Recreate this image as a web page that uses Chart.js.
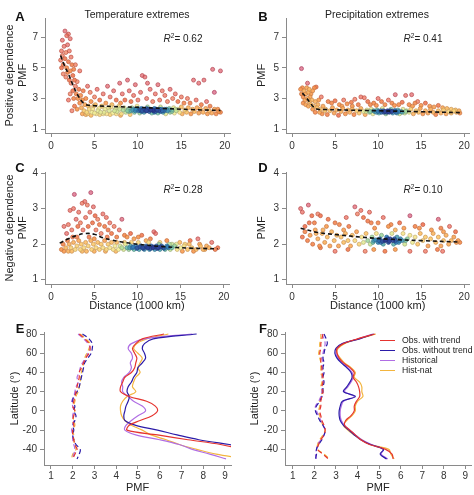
<!DOCTYPE html>
<html><head><meta charset="utf-8">
<script src="https://cdn.jsdelivr.net/npm/chart.js@4.4.1/dist/chart.umd.min.js"></script>
<style>
body{margin:0;background:#fff;font-family:"Liberation Sans",Arial,sans-serif;}
#wrap{position:relative;width:474px;height:495px;overflow:hidden;}
canvas{position:absolute;}
.t{position:absolute;transform:translate(-50%,-50%);white-space:nowrap;color:#222;font-size:10px;}
.lt{font-weight:bold;font-size:13px;color:#111;}
.r2 i{font-style:italic;}
.r2 sup{font-size:6.5px;vertical-align:4px;line-height:0;}
.leg{position:absolute;left:380px;height:10px;font-size:8.7px;color:#222;white-space:nowrap;line-height:10px;}
.leg span{position:absolute;left:0;top:5px;width:15px;height:0;border-top:1.5px solid;}
.leg b{position:absolute;left:22px;top:0;font-weight:normal;}
</style></head>
<body>
<div id="wrap">
  <canvas id="cA" width="240" height="160" style="left:0;top:0"></canvas>
  <canvas id="cB" width="234" height="160" style="left:240px;top:0"></canvas>
  <canvas id="cC" width="240" height="160" style="left:0;top:160px"></canvas>
  <canvas id="cD" width="234" height="160" style="left:240px;top:160px"></canvas>
  <canvas id="cE" width="240" height="175" style="left:0;top:320px"></canvas>
  <canvas id="cF" width="234" height="175" style="left:240px;top:320px"></canvas>

  <div class="t lt" style="left:20px;top:16px">A</div>
  <div class="t lt" style="left:263px;top:16px">B</div>
  <div class="t lt" style="left:20px;top:167px">C</div>
  <div class="t lt" style="left:263px;top:167px">D</div>
  <div class="t lt" style="left:20px;top:328px">E</div>
  <div class="t lt" style="left:263px;top:328px">F</div>
  <div class="t" style="left:137px;top:14px;font-size:10.5px">Temperature extremes</div>
  <div class="t" style="left:377px;top:14px;font-size:10.5px">Precipitation extremes</div>
  <div class="t r2" style="left:183px;top:38px"><i>R</i><sup>2</sup>= 0.62</div>
  <div class="t r2" style="left:423px;top:38px"><i>R</i><sup>2</sup>= 0.41</div>
  <div class="t r2" style="left:183px;top:189px"><i>R</i><sup>2</sup>= 0.28</div>
  <div class="t r2" style="left:423px;top:189px"><i>R</i><sup>2</sup>= 0.10</div>
  <div id="legend"></div>
</div>
<script>
// ticks
const distTicks = [0,5,10,15,20];
const posTicks = [1,3,5,7];
const negTicks = [1,2,3,4];
const pmfTicks = [1,2,3,4,5,6,7,8,9];
const latTicks = [-40,-20,0,20,40,60,80];

// A: temperature, positive dependence (distance, PMF)
const ptsA = [
[1.1,5.5],[1.2,6.1],[1.3,5.8],[1.3,6.8],[1.4,5.2],[1.5,6.4],[1.6,7.4],[1.6,5.6],[1.7,6.0],[1.8,7.1],[1.8,5.0],[1.9,6.5],[2.0,7.2],[2.0,5.4],[2.1,6.1],[2.2,6.9],[2.2,4.8],[2.3,5.7],[2.4,5.2],[2.5,4.5],
[1.2,5.0],[1.4,4.6],[1.7,4.4],[1.9,4.7],[2.1,4.2],[2.3,4.0],[2.6,4.9],[2.7,4.2],[2.8,3.8],[2.5,3.5],[2.9,3.3],[3.0,4.1],[3.1,3.0],[3.2,3.6],[3.3,2.7],[3.4,3.2],[2.6,3.0],[2.2,3.3],[2.0,2.9],[2.7,2.5],
[2.4,2.2],[3.0,2.3],[3.5,2.4],[3.6,2.9],[3.7,3.5],[3.8,2.2],[3.9,2.6],[3.3,4.8],[2.8,5.2],
[4.0,3.0],[4.1,2.1],[4.2,3.8],[4.3,2.5],[4.5,3.4],[4.6,2.8],[4.8,2.3],[5.0,3.1],[5.1,2.6],[5.3,3.6],[5.4,2.2],[5.6,2.9],[5.8,2.5],[6.0,3.3],[6.1,2.1],[6.3,2.7],[6.5,3.8],[6.6,2.4],[6.8,3.1],[7.0,2.6],
[7.2,3.5],[7.3,2.2],[7.5,2.9],[7.7,2.4],[7.9,4.0],[8.0,2.7],[8.2,3.3],
[8.5,2.9],[8.8,4.2],[9.0,3.5],[9.2,2.8],[9.5,3.2],[9.7,3.9],[10.0,2.9],[10.3,3.4],[10.5,4.5],[10.8,4.4],[11.0,3.0],[11.1,4.0],[11.4,3.6],[11.7,2.8],[12.0,3.3],[12.3,3.9],[12.5,2.9],[12.8,3.5],[13.1,3.2],[13.4,2.8],
[13.7,3.6],[14.0,3.0],[14.3,3.3],[14.6,2.8],[15.0,3.1],[15.3,2.7],[15.7,3.0],[16.0,2.7],[16.4,4.2],[16.7,2.9],[17.0,4.0],[17.3,2.6],[17.6,4.2],[17.9,2.8],[18.3,2.5],[18.6,4.9],[18.8,3.4],[19.2,2.3],[19.5,4.8],[19.5,2.1],
[4.2,2.0],[4.4,2.3],[4.7,2.1],[4.9,2.5],[5.2,2.0],[5.5,2.35],[5.7,2.1],[5.9,2.5],[6.2,2.3],[6.4,2.0],[6.7,2.2],[6.9,2.45],[7.1,2.05],[7.4,2.3],[7.6,2.15],[7.8,2.5],[8.1,2.0],[8.3,2.25],[8.4,2.4],[8.6,2.1],
[8.9,2.3],[9.0,2.15],[9.1,1.95],[9.3,2.4],[9.4,2.25],[9.6,2.1],[9.8,2.3],[9.9,2.5],[10.1,2.2],[10.2,2.05],[10.4,2.35],[10.5,2.2],[10.7,2.1],[10.8,2.3],[11.0,2.2],[11.1,2.45],[11.3,2.15],[11.4,2.3],[11.6,2.05],[11.7,2.25],
[11.9,2.35],[12.0,2.15],[12.2,2.25],[12.3,2.05],[12.5,2.3],[12.6,2.45],[12.8,2.2],[12.9,2.1],[13.1,2.3],[13.2,2.0],[13.4,2.2],[13.6,2.35],[13.7,2.1],[13.9,2.25],[14.1,2.4],[14.2,2.05],[14.4,2.2],[14.6,2.3],[14.8,2.1],[15.0,2.45],
[15.1,2.0],[15.4,2.25],[15.6,2.1],[15.8,2.4],[16.1,2.0],[16.3,2.3],[16.5,2.15],[16.8,2.4],[17.0,2.05],[17.2,2.3],[17.5,2.1],[17.8,2.35],[18.0,2.0],[18.2,2.2],[18.5,2.05],[18.8,2.3],[19.0,2.0],[19.3,2.15],
[9.2,2.2],[9.5,2.3],[9.7,2.2],[10.0,2.35],[10.3,2.25],[10.6,2.3],[10.9,2.2],[11.2,2.3],[11.5,2.25],[11.8,2.2],[12.1,2.3],[12.4,2.2],[12.7,2.3],[13.0,2.2],[13.3,2.3],[13.6,2.25],[13.9,2.15],[10.4,2.15],[11.0,2.35],[11.9,2.1],
[12.6,2.15],[8.8,2.2],[14.3,2.3],[7.9,2.3],
[3.6,2.0],[4.0,1.95],[4.6,1.9],[5.0,2.05],[5.6,1.95],[6.0,2.0],[6.8,1.95],[7.5,2.0],[8.0,1.9]
];
const fitAX = [1.1,1.5,2,2.5,3,3.5,4,5,7,10,13,16,19.5];
const fitAY = [5.8,5.2,4.6,3.9,3.3,2.85,2.6,2.53,2.48,2.42,2.35,2.28,2.22];

// B: precipitation, positive dependence
const ptsB = [
[1.1,4.95],[1.0,3.6],[1.1,3.3],[1.2,3.7],[1.3,3.1],[1.4,3.5],[1.5,2.9],[1.6,3.3],[1.7,3.7],[1.8,4.0],[1.8,3.0],[1.9,3.4],[2.0,2.8],[2.0,3.6],[2.1,3.1],[2.2,2.6],[2.2,3.3],[2.3,2.9],[2.4,3.5],[2.5,2.5],
[2.6,3.7],[2.7,2.8],[2.8,3.75],[2.9,2.4],[1.3,2.7],[1.6,2.6],[1.9,2.5],[2.4,2.3],[3.0,2.6],[3.1,2.9],[3.3,2.3],[3.4,3.1],[3.6,2.5],[3.2,2.1],[2.7,2.1],[3.8,2.2],
[4.2,2.8],[4.6,2.7],[5.0,2.85],[5.5,2.6],[6.0,2.9],[6.4,2.65],[6.9,2.75],[7.3,2.95],[7.7,2.6],[8.0,3.1],[8.4,3.05],[8.8,2.8],[9.1,2.6],[9.5,2.7],[10.0,3.0],[10.4,2.8],[10.8,2.6],[11.2,2.9],[11.6,2.7],[12.0,3.25],
[12.4,2.6],[12.8,2.75],[13.2,3.2],[13.6,2.6],[13.9,3.25],[14.3,2.7],[14.6,2.8],[15.0,2.55],[15.5,2.7],[16.0,2.5],[16.5,2.45],[17.0,2.55],[17.5,2.4],[18.0,2.35],[18.5,2.3],[19.0,2.25],[19.4,2.2],[7.0,2.5],[5.8,2.5],[9.8,2.55],
[11.9,2.55],[14.0,2.5],
[3.5,2.0],[3.9,2.3],[4.1,1.95],[4.4,2.2],[4.7,2.4],[4.9,2.05],[5.2,2.25],[5.4,1.9],[5.7,2.15],[5.9,2.35],[6.2,2.0],[6.5,2.25],[6.7,2.1],[7.0,2.3],[7.2,1.95],[7.5,2.2],[7.8,2.05],[8.0,2.35],[8.3,2.15],[8.5,1.95],
[8.7,2.25],[9.0,2.1],[9.2,2.3],[9.4,2.0],[9.6,2.15],[9.9,2.25],[10.1,2.05],[10.3,2.2],[10.5,2.35],[10.7,2.1],[10.9,2.0],[11.1,2.2],[11.3,2.1],[11.5,2.3],[11.7,2.05],[11.9,2.2],[12.1,2.1],[12.3,2.25],[12.5,2.0],[12.7,2.15],
[12.9,2.3],[13.1,2.05],[13.3,2.2],[13.6,2.1],[13.8,2.3],[14.1,2.0],[14.4,2.2],[14.7,2.1],[14.9,2.35],[15.2,2.0],[15.5,2.2],[15.8,2.05],[16.1,2.3],[16.4,2.1],[16.7,1.95],[17.0,2.2],[17.3,2.05],[17.6,2.25],[17.9,2.0],[18.2,2.15],
[18.5,2.05],[18.8,2.2],[19.1,2.1],[19.5,2.05],
[9.1,2.15],[9.5,2.2],[9.8,2.1],[10.0,2.15],[10.4,2.1],[10.6,2.2],[10.8,2.15],[11.0,2.1],[11.2,2.15],[11.6,2.15],[12.0,2.2],[12.4,2.15],[12.8,2.1],[13.2,2.15],[8.6,2.15],[11.4,2.2],[12.2,2.05]
];
const fitBX = [1.2,1.6,2,2.5,3,4,5,10,15,19.5];
const fitBY = [3.35,3.1,2.8,2.45,2.3,2.28,2.26,2.2,2.14,2.08];

// C: temperature, negative dependence
const ptsC = [
[1.5,2.5],[1.8,2.3],[2.0,2.55],[2.2,2.95],[2.4,2.4],[2.6,3.0],[2.7,3.4],[2.9,2.7],[3.1,2.5],[3.2,2.9],[3.4,2.6],[3.6,3.15],[3.7,2.4],[3.9,3.2],[4.0,2.75],[4.2,3.1],[4.3,2.5],[4.5,2.9],[4.6,3.45],[4.8,2.6],
[4.9,3.05],[5.1,2.8],[5.2,2.4],[5.4,2.7],[5.6,2.55],[5.8,2.3],[6.0,2.85],[6.2,2.5],[6.4,2.75],[6.6,2.4],[6.8,2.6],[7.0,2.3],[7.3,2.5],[7.6,2.2],[7.9,2.4],[8.2,2.7],[8.5,2.25],[8.8,2.2],[9.2,2.3],[9.6,2.15],
[10.1,2.2],[10.5,2.25],[11.0,2.1],[11.5,2.15],[11.9,2.35],[12.1,2.3],[12.6,2.05],[13.4,2.1],[14.0,2.0],[14.9,2.05],[15.5,2.0],[16.1,2.1],[17.0,2.15],[17.2,2.0],[18.0,1.95],[18.6,2.05],[19.3,1.9],[19.0,1.85],[3.0,2.2],[4.4,2.2],
[5.0,2.15],[2.5,2.2],[6.5,2.2],[1.9,2.1],
[1.2,1.85],[1.4,2.0],[1.7,1.9],[2.0,1.8],[2.1,2.0],[2.3,1.9],[2.6,2.05],[2.8,1.85],[3.0,1.95],[3.2,2.1],[3.4,1.85],[3.5,2.0],[3.8,1.9],[4.0,2.05],[4.1,1.8],[4.3,1.95],[4.6,2.1],[4.7,1.85],[4.9,2.0],[5.2,1.9],
[5.4,2.05],[5.6,1.85],[5.8,2.0],[6.0,1.9],[6.2,2.1],[6.4,1.85],[6.6,2.0],[6.8,1.9],[7.0,2.05],[7.2,1.85],[7.4,1.95],[7.6,2.05],[7.8,1.85],[8.0,1.95],[1.5,1.8],[2.4,1.8],[3.6,1.8],[5.0,1.8],[6.3,1.8],[7.5,1.8],
[8.2,1.9],[8.4,1.85],[8.6,2.0],[8.8,1.9],[9.0,1.85],[9.2,1.95],[9.4,1.9],[9.6,1.85],[9.8,1.95],[10.0,1.9],[10.2,1.85],[10.4,1.95],[10.6,1.9],[10.8,1.85],[11.0,1.95],[11.2,1.9],[11.4,1.85],[11.6,1.95],[11.8,1.9],[12.0,1.85],
[12.2,1.95],[12.4,1.9],[12.6,1.85],[12.8,1.95],[13.0,1.9],[13.2,1.85],[13.4,1.95],[13.6,1.9],[13.8,1.85],[14.0,1.9],[14.3,1.95],[14.6,1.85],[15.0,1.9],[15.4,1.95],[15.8,1.85],[16.3,1.9],[16.8,1.85],[17.3,1.95],[17.8,1.85],[18.3,1.9],
[9.1,1.9],[9.5,1.92],[9.9,1.88],[10.3,1.92],[10.7,1.88],[11.1,1.92],[11.5,1.88],[11.9,1.92],[12.3,1.88],[12.7,1.92],[13.1,1.88],[13.5,1.92],[8.5,2.05],[9.3,2.05],[10.1,2.05],[11.3,2.05],[12.5,2.0],[13.7,2.0],[14.5,2.0],[15.2,1.8],
[16.0,2.0],[16.5,1.8],[17.6,1.85]
];
const fitCX = [1,2,3,4,5,6,7,8,10,13,16,19.3];
const fitCY = [2.03,2.15,2.25,2.3,2.28,2.18,2.12,2.07,2.0,1.93,1.89,1.87];

// D: precipitation, negative dependence
const ptsD = [
[1.0,3.0],[1.2,2.9],[1.9,3.1],[2.3,2.8],[3.0,2.85],[3.3,2.8],[2.0,2.6],[2.6,2.6],[1.5,2.5],[4.2,2.7],[4.0,2.5],[5.5,2.55],[5.0,2.6],[6.3,2.75],[6.6,2.5],[7.3,3.05],[7.6,2.85],[8.0,2.95],[8.3,2.75],[8.8,2.65],
[9.2,2.6],[9.0,2.9],[10.0,2.6],[10.6,2.75],[11.2,2.5],[11.5,2.55],[12.5,2.6],[13.0,2.45],[13.7,2.8],[14.3,2.5],[14.8,2.45],[15.2,2.55],[16.2,2.4],[17.0,2.7],[17.3,2.45],[17.6,2.35],[18.3,2.5],[19.0,2.35],[19.3,2.1],[3.6,2.4],
[6.0,2.4],[9.6,2.45],[12.0,2.4],[2.8,2.3],
[5.0,1.8],[8.5,1.8],[9.5,1.85],[12.0,1.85],[13.7,1.8],[15.5,1.8],[16.9,1.85],[17.5,1.8],[6.5,1.85],[10.8,1.8],[3.3,1.9],
[1.2,2.2],[1.5,2.35],[1.8,2.1],[2.1,2.25],[2.4,2.0],[2.7,2.4],[3.0,2.15],[3.2,1.95],[3.5,2.3],[3.8,2.05],[4.1,2.2],[4.4,1.95],[4.6,2.35],[4.9,2.1],[5.2,2.25],[5.4,1.95],[5.7,2.2],[6.0,2.05],[6.2,2.3],[6.5,2.1],
[6.8,1.95],[7.0,2.25],[7.3,2.1],[7.5,2.35],[7.8,2.0],[8.1,2.2],[8.3,2.05],[8.6,2.3],[8.8,2.1],[9.1,2.0],[9.3,2.2],[9.5,2.1],[9.8,2.3],[10.0,2.05],[10.2,2.15],[10.4,2.25],[10.6,2.0],[10.8,2.1],[11.0,2.2],[11.2,2.05],
[11.4,2.15],[11.6,2.3],[11.8,2.0],[12.0,2.1],[12.2,2.2],[12.4,2.05],[12.6,2.15],[12.9,2.3],[13.1,2.0],[13.4,2.15],[13.7,2.25],[14.0,2.05],[14.3,2.2],[14.6,2.0],[14.9,2.3],[15.2,2.1],[15.5,2.2],[15.8,1.95],[16.1,2.15],[16.4,2.3],
[16.7,2.05],[17.0,2.2],[17.3,1.95],[17.6,2.1],[17.9,2.25],[18.2,2.0],[18.5,2.1],[18.8,2.2],[19.1,2.05],[19.5,2.05],
[10.1,2.1],[10.5,2.08],[10.9,2.12],[11.3,2.08],[11.7,2.1],[12.1,2.05],[12.5,2.1],[9.7,2.12],[10.3,2.05],[11.1,2.15],[11.9,2.15],[12.8,2.1],[9.4,2.05],[13.2,2.1]
];
const fitDX = [1,3,5.5,8,11.3,15,19.6];
const fitDY = [2.45,2.33,2.26,2.2,2.14,2.1,2.06];

// E / F: latitude profiles of PMF
const lat = [80,75,70,65,60,55,50,45,40,35,30,25,20,15,10,5,0,-5,-10,-15,-20,-25,-30,-35,-40,-45,-50];
const seriesNames = ['Obs. with trend','Obs. without trend','Historical','Hist-nat'];
const seriesColors = ['#e5342f','#2b1ba8','#b06ee4','#f3b53f'];

const posTrendE   = [6.2,5.2,4.9,4.75,4.85,4.95,4.9,4.85,4.7,4.4,4.3,4.2,4.2,4.6,5.4,5.8,5.9,5.65,5.1,4.6,4.5,5.9,7.3,8.8,9.8,null,null];
const posNoTrendE = [7.7,5.7,5.3,5.2,5.3,5.35,5.2,5.0,4.95,4.8,4.7,4.55,4.5,4.6,4.55,4.45,4.4,4.35,4.4,4.9,5.9,6.8,7.8,9.2,10.6,null,null];
const posHistE    = [7.5,5.3,4.7,4.55,4.7,4.75,4.65,4.7,4.6,4.35,4.25,4.3,4.3,4.55,4.8,5.2,5.35,5.0,4.7,4.45,4.4,4.9,6.0,6.9,7.5,8.3,9.05];
const posNatE     = [6.4,5.4,4.95,4.8,5.0,5.2,5.1,5.0,5.1,4.9,4.8,4.75,4.9,4.5,4.3,4.2,4.2,4.25,4.4,4.7,5.2,5.6,6.3,6.9,7.7,8.6,10.0];
const negTrendE   = [2.3,2.55,2.75,2.8,2.75,2.6,2.5,2.4,2.3,2.3,2.25,2.2,2.15,2.1,2.05,2.0,2.1,2.05,2.0,2.05,2.0,2.0,2.05,2.1,2.2,2.1,2.0];
const negNoTrendE = [2.45,2.75,2.9,2.9,2.85,2.7,2.55,2.5,2.45,2.4,2.35,2.3,2.2,2.05,2.0,2.1,2.05,2.15,2.1,2.0,2.05,2.0,2.05,2.15,2.35,2.3,2.2];
const negHistE    = [2.25,2.5,2.7,2.8,2.7,2.6,2.45,2.35,2.3,2.2,2.25,2.15,2.1,2.05,1.95,2.0,2.05,2.0,2.05,2.0,1.95,2.0,2.0,2.05,2.1,2.05,1.95];
const negNatE     = [2.35,2.6,2.8,2.75,2.65,2.55,2.5,2.45,2.4,2.35,2.35,2.3,2.25,2.15,2.1,2.05,2.1,2.0,2.05,2.1,2.0,2.05,2.05,2.1,2.15,2.0,1.95];

const posTrendF   = [4.8,4.0,3.35,3.05,3.05,3.15,3.35,3.65,3.85,3.8,3.95,4.05,4.1,4.1,3.95,3.85,3.85,3.7,3.45,3.4,3.65,3.9,4.15,4.55,5.3,5.6,5.65];
const posNoTrendF = [4.75,4.1,3.3,3.0,2.95,3.05,3.25,3.5,3.7,3.75,3.65,3.5,3.35,3.9,3.3,3.2,3.15,3.15,3.2,3.35,3.6,3.85,4.15,4.6,5.2,5.05,5.35];
const posHistF    = [4.7,4.05,3.3,3.05,3.0,3.1,3.3,3.55,3.75,3.8,3.7,3.55,3.4,3.85,3.35,3.25,3.2,3.2,3.25,3.4,3.65,3.9,4.2,4.65,5.2,5.1,5.4];
const posNatF     = [4.85,4.05,3.4,3.1,3.05,3.2,3.4,3.7,3.9,3.85,4.1,4.2,4.2,4.25,4.0,3.9,3.9,3.75,3.5,3.35,3.55,3.85,4.2,4.6,5.45,5.55,5.7];
const negTrendF   = [2.4,2.35,2.3,2.3,2.25,2.3,2.3,2.35,2.35,2.4,2.4,2.35,2.4,2.35,2.3,2.3,2.25,2.3,2.35,2.45,2.5,2.45,2.3,2.2,2.15,2.4,2.65];
const negNoTrendF = [2.45,2.55,2.6,2.5,2.45,2.4,2.45,2.4,2.45,2.4,2.45,2.4,2.4,2.35,2.25,2.1,2.05,2.15,2.25,2.4,2.5,2.45,2.35,2.2,2.1,2.1,2.05];
const negHistF    = [2.35,2.45,2.5,2.45,2.4,2.35,2.4,2.35,2.4,2.35,2.4,2.35,2.35,2.3,2.2,2.05,2.1,2.2,2.3,2.4,2.5,2.45,2.3,2.15,2.1,2.05,2.1];
const negNatF     = [2.3,2.3,2.25,2.25,2.2,2.25,2.3,2.3,2.3,2.35,2.35,2.3,2.35,2.3,2.25,2.25,2.2,2.25,2.3,2.4,2.5,2.4,2.25,2.15,2.15,2.45,2.7];

Chart.defaults.font.family = '"Liberation Sans", Arial, sans-serif';

// density colour ramp (pink-red = sparse, blue = dense)
const ramp = [[0,[214,86,118]],[0.16,[236,104,84]],[0.3,[247,150,76]],[0.44,[252,202,108]],[0.56,[244,238,150]],[0.66,[196,230,152]],[0.77,[112,196,168]],[0.88,[52,136,188]],[1,[44,62,150]]];
function cmap(t){
  for(let i=1;i<ramp.length;i++){
    if(t<=ramp[i][0]){
      const a=ramp[i-1], b=ramp[i], f=(t-a[0])/(b[0]-a[0]);
      return a[1].map((v,k)=>Math.round(v+(b[1][k]-v)*f));
    }
  }
  return ramp[ramp.length-1][1];
}
function densityDataset(pts, sx, sy){
  const d = pts.map(p=>pts.reduce((s,q)=>s+Math.exp(-(((p[0]-q[0])/sx)**2+((p[1]-q[1])/sy)**2)/2),0));
  const mn=Math.min(...d), mx=Math.max(...d);
  const order = pts.map((p,i)=>i).sort((a,b)=>d[a]-d[b]);
  const fill=[], edge=[], data=[];
  order.forEach(i=>{
    const t = Math.pow((d[i]-mn)/(mx-mn), 0.8);
    const c = cmap(t);
    data.push({x:pts[i][0], y:pts[i][1]});
    fill.push(`rgba(${c[0]},${c[1]},${c[2]},${t<0.2?0.7:0.9})`);
    edge.push(`rgb(${Math.round(c[0]*0.8)},${Math.round(c[1]*0.75)},${Math.round(c[2]*0.8)})`);
  });
  return {data, backgroundColor:fill, borderColor:edge, pointRadius:2, pointBorderWidth:0.7, order:1};
}
function fitDataset(xs, ys){
  return {data:xs.map((x,i)=>({x, y:ys[i]})), showLine:true, borderColor:'#111', borderWidth:1.6,
    borderDash:[4,3], pointRadius:0, tension:0.4, order:0};
}
function profile(vals, color, dashed){
  const data=[]; vals.forEach((v,i)=>{ if(v!=null) data.push({x:v, y:lat[i]}); });
  return {data, showLine:true, borderColor:color, borderWidth:1.2, borderDash:dashed?[5,3]:[],
    pointRadius:0, tension:0.35};
}

function axis(o, isX){
  return {
    type:'linear', min:o.min, max:o.max,
    afterBuildTicks:s=>{ s.ticks=o.ticks.map(v=>({value:v})); },
    afterFit:s=>{ if(isX) s.height=o.size; else s.width=o.size; },
    grid:{drawOnChartArea:false, tickLength:4, color:'#8a8a8a'},
    border:{color:'#8a8a8a'},
    ticks:{color:'#333', font:{size:10}, padding:o.tp==null?3:o.tp, autoSkip:false, maxRotation:0},
    title:{display:!!o.title, text:o.title, color:'#222', font:{size:11}, padding:o.titlePad||0}
  };
}
function make(id, datasets, pad, x, y){
  new Chart(document.getElementById(id), {
    type:'scatter',
    data:{datasets},
    options:{responsive:false, animation:false, events:[],
      layout:{padding:pad},
      plugins:{legend:{display:false}, tooltip:{enabled:false}},
      scales:{x:axis(x,true), y:axis(y,false)}}
  });
}

const xDist = (h,title,tb)=>({min:-0.7,max:20.6,ticks:distTicks,size:h,title,titlePad:{top:0,bottom:tb||0}});
make('cA',[fitDataset(fitAX,fitAY),densityDataset(ptsA,0.9,0.2)],{top:18,right:10,left:0,bottom:0},
  xDist(27), {min:0.75,max:8.25,ticks:posTicks,size:45,title:['Positive dependence','PMF'],titlePad:{top:3.4}});
make('cB',[fitDataset(fitBX,fitBY),densityDataset(ptsB,0.9,0.15)],{top:18,right:4,left:0,bottom:0},
  xDist(27), {min:0.75,max:8.25,ticks:posTicks,size:46,title:'PMF',titlePad:{top:15.4}});
make('cC',[fitDataset(fitCX,fitCY),densityDataset(ptsC,0.9,0.08)],{top:12,right:11,left:0,bottom:0},
  xDist(36,'Distance (1000 km)',7.4), {min:0.88,max:4.03,ticks:negTicks,size:45,title:['Negative dependence','PMF'],titlePad:{top:3.4}});
make('cD',[fitDataset(fitDX,fitDY),densityDataset(ptsD,1.4,0.13)],{top:12,right:4,left:0,bottom:0},
  xDist(36,'Distance (1000 km)',7.4), {min:0.88,max:4.03,ticks:negTicks,size:46,title:'PMF',titlePad:{top:15.4}});

const E = [posTrendE,posNoTrendE,posHistE,posNatE].map((v,i)=>profile(v,seriesColors[i],false))
  .concat([negTrendE,negNoTrendE,negHistE,negNatE].map((v,i)=>profile(v,seriesColors[i],true)));
const F = [posTrendF,posNoTrendF,posHistF,posNatF].map((v,i)=>profile(v,seriesColors[i],false))
  .concat([negTrendF,negNoTrendF,negHistF,negNatF].map((v,i)=>profile(v,seriesColors[i],true)));
make('cE',E,{top:12,right:9,left:0,bottom:0},
  {min:0.68,max:9.28,ticks:pmfTicks,size:30,tp:1,title:'PMF'},
  {min:-56.3,max:82.1,ticks:latTicks,size:44,title:'Latitude (°)',titlePad:{top:8.4}});
make('cF',F,{top:12,right:3,left:0,bottom:0},
  {min:0.64,max:9.26,ticks:pmfTicks,size:30,tp:1,title:'PMF'},
  {min:-56.3,max:82.1,ticks:latTicks,size:45,title:'Latitude (°)',titlePad:{top:8.4}});

// legend for panel F
const leg = document.getElementById('legend');
seriesNames.forEach((n,i)=>{
  const d=document.createElement('div'); d.className='leg';
  d.style.top=(335+i*10)+'px';
  d.innerHTML=`<span style="border-color:${seriesColors[i]}"></span><b>${n}</b>`;
  leg.appendChild(d);
});
</script>
</body></html>
